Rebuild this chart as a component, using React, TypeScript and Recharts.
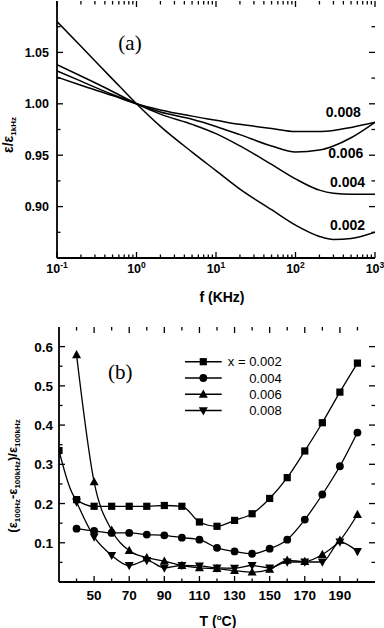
import React from 'react';
import { LineChart, Line, XAxis, YAxis, Legend } from 'recharts';

// ---------- panel (a): relative permittivity vs frequency ----------
const freqKHz = [0.1, 0.2, 0.5, 1, 2, 5, 10, 20, 50, 100, 200, 300, 500, 1000];
const epsX002 = [1.080, 1.056, 1.024, 1.000, 0.978, 0.953, 0.935, 0.917, 0.897, 0.882, 0.871, 0.868, 0.869, 0.875];
const epsX004 = [1.038, 1.027, 1.012, 1.000, 0.990, 0.980, 0.971, 0.959, 0.941, 0.927, 0.916, 0.913, 0.912, 0.912];
const epsX006 = [1.032, 1.022, 1.009, 1.000, 0.992, 0.985, 0.978, 0.970, 0.959, 0.953, 0.955, 0.959, 0.967, 0.982];
const epsX008 = [1.026, 1.018, 1.008, 1.000, 0.994, 0.988, 0.984, 0.980, 0.976, 0.973, 0.973, 0.974, 0.977, 0.982];
const freqMajor = [0.1, 1, 10, 100, 1000];
const freqTicks = [
  0.1, 0.2, 0.3, 0.4, 0.5, 0.6, 0.7, 0.8, 0.9,
  1, 2, 3, 4, 5, 6, 7, 8, 9,
  10, 20, 30, 40, 50, 60, 70, 80, 90,
  100, 200, 300, 400, 500, 600, 700, 800, 900, 1000,
];
const freqExp = ['-1', '0', '1', '2', '3'];
const epsMajor = [0.9, 0.95, 1.0, 1.05];
const epsTicks = [0.875, 0.9, 0.925, 0.95, 0.975, 1.0, 1.025, 1.05, 1.075];
const epsCurveLabels = ['0.008', '0.006', '0.004', '0.002'];

// ---------- panel (b): dispersion vs temperature ----------
const tempC = [30, 40, 50, 60, 70, 80, 90, 100, 110, 120, 130, 140, 150, 160, 170, 180, 190, 200];
const ratioX002 = [0.335, 0.21, 0.193, 0.193, 0.193, 0.193, 0.195, 0.193, 0.153, 0.142, 0.157, 0.174, 0.213, 0.266, 0.334, 0.406, 0.484, 0.558];
const ratioX004 = [null, 0.136, 0.130, 0.125, 0.125, 0.121, 0.119, 0.113, 0.108, 0.087, 0.078, 0.072, 0.085, 0.108, 0.159, 0.223, 0.295, 0.381];
const ratioX006 = [null, 0.579, 0.255, 0.132, 0.080, 0.062, 0.053, 0.042, 0.036, 0.034, 0.029, 0.025, 0.032, 0.055, 0.052, 0.070, 0.106, 0.172];
const ratioX008 = [null, 0.204, 0.115, 0.068, 0.042, 0.055, 0.036, 0.042, 0.041, 0.036, 0.035, 0.042, 0.036, 0.051, 0.051, 0.051, 0.102, 0.078];
const tempMajor = [50, 70, 90, 110, 130, 150, 170, 190];
const tempTicks = [40, 50, 60, 70, 80, 90, 100, 110, 120, 130, 140, 150, 160, 170, 180, 190, 200];
const ratioMajor = [0.1, 0.2, 0.3, 0.4, 0.5, 0.6];
const ratioTicks = [0.05, 0.1, 0.15, 0.2, 0.25, 0.3, 0.35, 0.4, 0.45, 0.5, 0.55, 0.6];
const seriesNames = ['x = 0.002', '0.004', '0.006', '0.008'];

const epsData = freqKHz.map((f, i) => ({
  f, x002: epsX002[i], x004: epsX004[i], x006: epsX006[i], x008: epsX008[i],
}));
const ratioData = tempC.map((t, i) => ({
  t, x002: ratioX002[i], x004: ratioX004[i], x006: ratioX006[i], x008: ratioX008[i],
}));

// ---------- layout ----------
const W = 384;
const A_H = 310;
const A_MARGIN = { top: 1, right: 9, bottom: 0, left: 0 };
const A_XAXIS_H = 52;
const A_YAXIS_W = 57;
const B_H = 318;
const B_MARGIN = { top: 17, right: 9, bottom: 0, left: 0 };
const B_XAXIS_H = 46;
const B_YAXIS_W = 59;
const A_PLOT_H = A_H - A_MARGIN.top - A_XAXIS_H;
const A_PLOT_W = W - A_MARGIN.right - A_YAXIS_W;
const B_PLOT_H = B_H - B_MARGIN.top - B_XAXIS_H;
const B_PLOT_W = W - B_MARGIN.right - B_YAXIS_W;

const SANS = '"Liberation Sans", Arial, Helvetica, sans-serif';
const SERIF = '"Liberation Serif", "Times New Roman", serif';
const frame = { stroke: '#000', strokeWidth: 1.8 };
const near = (v: number, arr: number[]) => arr.findIndex((a) => Math.abs(a - v) < 1e-9);

// bottom / left axis ticks: inward tick at the axis and its mirror on the opposite frame side
function makeXTick(majors: number[], plotH: number, label: (v: number, idx: number, x: number, y: number) => React.ReactNode) {
  return (props: any) => {
    const { x, y, payload } = props;
    const v = payload.value as number;
    const idx = near(v, majors);
    const len = idx >= 0 ? 6 : 3.5;
    const top = y - plotH;
    return (
      <g>
        <line x1={x} y1={y} x2={x} y2={y - len} stroke="#000" strokeWidth={1.3} />
        <line x1={x} y1={top} x2={x} y2={top + len} stroke="#000" strokeWidth={1.3} />
        {idx >= 0 ? label(v, idx, x, y) : null}
      </g>
    );
  };
}
function makeYTick(majors: number[], plotW: number, label: (v: number, idx: number, x: number, y: number) => React.ReactNode) {
  return (props: any) => {
    const { x, y, payload } = props;
    const v = payload.value as number;
    const idx = near(v, majors);
    const len = idx >= 0 ? 6 : 3.5;
    const right = x + plotW;
    return (
      <g>
        <line x1={x} y1={y} x2={x + len} y2={y} stroke="#000" strokeWidth={1.3} />
        <line x1={right} y1={y} x2={right - len} y2={y} stroke="#000" strokeWidth={1.3} />
        {idx >= 0 ? label(v, idx, x, y) : null}
      </g>
    );
  };
}

const freqLabel = (_v: number, idx: number, x: number, y: number) => (
  <text x={x} y={y + 15} textAnchor="middle" fontFamily={SANS} fontWeight="bold" fontSize={12.5} fill="#000">
    <tspan>10</tspan>
    <tspan dy={-5} fontSize={8.5}>{freqExp[idx]}</tspan>
  </text>
);
const epsLabel = (v: number, _idx: number, x: number, y: number) => (
  <text x={x - 8} y={y + 4.5} textAnchor="end" fontFamily={SANS} fontWeight="bold" fontSize={12.5} fill="#000">
    {v.toFixed(2)}
  </text>
);
const tempLabel = (v: number, _idx: number, x: number, y: number) => (
  <text x={x} y={y + 18} textAnchor="middle" fontFamily={SANS} fontWeight="bold" fontSize={13.5} fill="#000">
    {v}
  </text>
);
const ratioLabel = (v: number, _idx: number, x: number, y: number) => (
  <text x={x - 6} y={y + 5} textAnchor="end" fontFamily={SANS} fontWeight="bold" fontSize={13.5} fill="#000">
    {v.toFixed(1)}
  </text>
);

type Shape = 'square' | 'circle' | 'up' | 'down';
const shapeByKey: Record<string, Shape> = { x002: 'square', x004: 'circle', x006: 'up', x008: 'down' };

function Marker({ shape, cx, cy }: { shape: Shape; cx: number; cy: number }) {
  if (shape === 'square') return <rect x={cx - 3.6} y={cy - 3.6} width={7.2} height={7.2} fill="#000" />;
  if (shape === 'circle') return <circle cx={cx} cy={cy} r={3.9} fill="#000" />;
  if (shape === 'up')
    return <polygon points={`${cx},${cy - 4.8} ${cx + 4.5},${cy + 3.4} ${cx - 4.5},${cy + 3.4}`} fill="#000" />;
  return <polygon points={`${cx},${cy + 4.8} ${cx + 4.5},${cy - 3.4} ${cx - 4.5},${cy - 3.4}`} fill="#000" />;
}

const makeDot = (shape: Shape) => (p: any) => {
  if (p.cx == null || p.cy == null || p.value == null) return <g key={p.index} />;
  return (
    <g key={p.index}>
      <Marker shape={shape} cx={p.cx} cy={p.cy} />
    </g>
  );
};

function RatioLegend(props: any) {
  const payload = props.payload || [];
  return (
    <svg width={115} height={70} style={{ display: 'block' }}>
      {payload.map((item: any, i: number) => {
        const cy = 11.7 + i * 16.3;
        const shape = shapeByKey[String(item.dataKey)] || 'square';
        return (
          <g key={i}>
            <line x1={10} x2={46.7} y1={cy} y2={cy} stroke="#000" strokeWidth={1.5} />
            <Marker shape={shape} cx={28.3} cy={cy} />
            <text x={106.7} y={cy + 4.6} textAnchor="end" fontFamily={SANS} fontSize={13} fill="#000">
              {item.value}
            </text>
          </g>
        );
      })}
    </svg>
  );
}

export default function App() {
  const lineProps = { stroke: '#000', strokeWidth: 1.5, isAnimationActive: false };
  const common = { type: 'number' as const, allowDataOverflow: true, interval: 0 as const, tickMargin: 0, tickSize: 0, tickLine: false, axisLine: frame };
  const fAxis = { ...common, dataKey: 'f', scale: 'log' as const, domain: [0.1, 1000], ticks: freqTicks };
  const eAxis = { ...common, domain: [0.85, 1.1], ticks: epsTicks };
  const tAxis = { ...common, dataKey: 't', domain: [30, 210], ticks: tempTicks };
  const rAxis = { ...common, domain: [0, 0.65], ticks: ratioTicks };
  return (
    <div style={{ position: 'absolute', left: 0, top: 0, width: W, height: A_H + B_H, background: '#fff', overflow: 'hidden' }}>
      {/* panel (a) */}
      <div style={{ position: 'absolute', left: 0, top: 0 }}>
        <LineChart width={W} height={A_H} data={epsData} margin={A_MARGIN}>
          <XAxis xAxisId="b" {...fAxis} height={A_XAXIS_H} tick={makeXTick(freqMajor, A_PLOT_H, freqLabel)} />
          <XAxis xAxisId="t" orientation="top" {...fAxis} height={0} tick={false} />
          <YAxis yAxisId="l" {...eAxis} width={A_YAXIS_W} tick={makeYTick(epsMajor, A_PLOT_W, epsLabel)} />
          <YAxis yAxisId="r" orientation="right" {...eAxis} width={0} tick={false} />
          <Line xAxisId="b" yAxisId="l" type="monotone" dataKey="x002" dot={false} {...lineProps} />
          <Line xAxisId="b" yAxisId="l" type="monotone" dataKey="x004" dot={false} {...lineProps} />
          <Line xAxisId="b" yAxisId="l" type="monotone" dataKey="x006" dot={false} {...lineProps} />
          <Line xAxisId="t" yAxisId="r" type="monotone" dataKey="x008" dot={false} {...lineProps} />
        </LineChart>
      </div>

      {/* panel (b) */}
      <div style={{ position: 'absolute', left: 0, top: A_H }}>
        <LineChart width={W} height={B_H} data={ratioData} margin={B_MARGIN}>
          <XAxis xAxisId="b" {...tAxis} height={B_XAXIS_H} tick={makeXTick(tempMajor, B_PLOT_H, tempLabel)} />
          <XAxis xAxisId="t" orientation="top" {...tAxis} height={0} tick={false} />
          <YAxis yAxisId="l" {...rAxis} width={B_YAXIS_W} tick={makeYTick(ratioMajor, B_PLOT_W, ratioLabel)} />
          <YAxis yAxisId="r" orientation="right" {...rAxis} width={0} tick={false} />
          <Legend layout="vertical" align="center" verticalAlign="middle" itemSorter="dataKey"
            content={(p: any) => <RatioLegend {...p} />}
            wrapperStyle={{ left: 175, top: 40, width: 115, height: 70 }} />
          <Line xAxisId="b" yAxisId="l" type="monotone" dataKey="x002" name={seriesNames[0]} dot={makeDot('square')} {...lineProps} strokeWidth={1.3} />
          <Line xAxisId="b" yAxisId="l" type="monotone" dataKey="x004" name={seriesNames[1]} dot={makeDot('circle')} {...lineProps} strokeWidth={1.3} />
          <Line xAxisId="b" yAxisId="l" type="monotone" dataKey="x006" name={seriesNames[2]} dot={makeDot('up')} {...lineProps} strokeWidth={1.3} />
          <Line xAxisId="t" yAxisId="r" type="monotone" dataKey="x008" name={seriesNames[3]} dot={makeDot('down')} {...lineProps} strokeWidth={1.3} />
        </LineChart>
      </div>

      {/* annotations and axis titles */}
      <svg width={W} height={A_H + B_H} style={{ position: 'absolute', left: 0, top: 0, pointerEvents: 'none' }}>
        <text x={130} y={49.5} textAnchor="middle" fontFamily={SERIF} fontSize={21} fill="#000">(a)</text>
        <text x={343.3} y={116.5} textAnchor="middle" fontFamily={SANS} fontWeight="bold" fontSize={14} fill="#000">{epsCurveLabels[0]}</text>
        <text x={345.7} y={158} textAnchor="middle" fontFamily={SANS} fontWeight="bold" fontSize={14} fill="#000">{epsCurveLabels[1]}</text>
        <text x={347.5} y={186.5} textAnchor="middle" fontFamily={SANS} fontWeight="bold" fontSize={14} fill="#000">{epsCurveLabels[2]}</text>
        <text x={347.5} y={230} textAnchor="middle" fontFamily={SANS} fontWeight="bold" fontSize={14} fill="#000">{epsCurveLabels[3]}</text>
        <text x={222} y={301.5} textAnchor="middle" fontFamily={SANS} fontWeight="bold" fontSize={14} fill="#000">f (KHz)</text>
        <text transform="translate(13,135) rotate(-90)" textAnchor="middle" fontFamily={SANS} fontWeight="bold" fontSize={14} fill="#000">
          <tspan>ε/ε</tspan>
          <tspan dy={3} fontSize={8}>1kHz</tspan>
        </text>

        <text x={120.3} y={379} textAnchor="middle" fontFamily={SERIF} fontSize={21} fill="#000">(b)</text>
        <text x={218} y={626} textAnchor="middle" fontFamily={SANS} fontWeight="bold" fontSize={14} fill="#000">
          <tspan>T (</tspan>
          <tspan dy={-6} fontSize={8}>o</tspan>
          <tspan dy={6}>C)</tspan>
        </text>
        <text transform="translate(17,476) rotate(-90)" textAnchor="middle" fontFamily={SANS} fontWeight="bold" fontSize={13} fill="#000">
          <tspan>(ε</tspan>
          <tspan dy={3} fontSize={8}>100Hz</tspan>
          <tspan dy={-3}>-ε</tspan>
          <tspan dy={3} fontSize={8}>100kHz</tspan>
          <tspan dy={-3}>)/ε</tspan>
          <tspan dy={3} fontSize={8}>100kHz</tspan>
        </text>
      </svg>
    </div>
  );
}
